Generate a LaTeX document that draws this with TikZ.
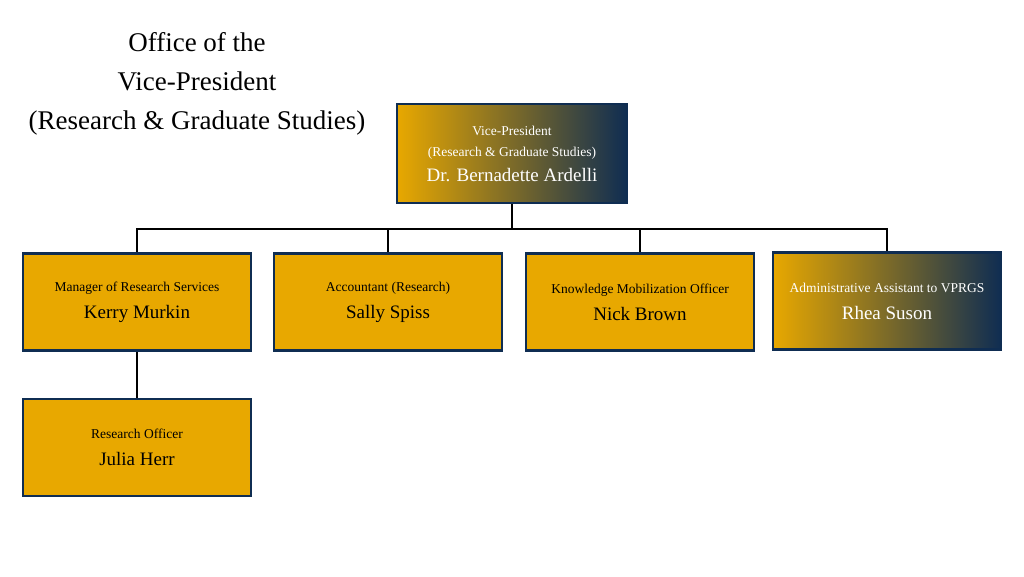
\documentclass[tikz,border=0pt]{standalone}
\usepackage{fontspec}
\setmainfont{Liberation Serif}
\definecolor{gold}{HTML}{E8A800}
\definecolor{navy}{HTML}{0F2D52}
\newcommand{\sm}{\fontsize{13.5}{17}\selectfont}
\newcommand{\nm}{\fontsize{19}{22}\selectfont}
\begin{document}
\begin{tikzpicture}[x=1pt,y=-1pt,
 box/.style={draw=navy,line width=2.5pt,fill=gold,minimum width=228pt,minimum height=97pt,align=center,inner sep=0pt,font=\fontsize{13.5}{17}\selectfont},
 gbox/.style={box,fill=none,left color=gold,right color=navy,text=white},
 ln/.style={line width=1.5pt,black}]
\useasboundingbox (0,0) rectangle (1024,576);
\node[font=\fontsize{27}{39}\selectfont,align=center] (title) at (197,84) {Office of the\\Vice-President\\(Research \& Graduate Studies)};
\node[gbox,minimum width=230pt,minimum height=99pt] (vp) at (512,153.5) {\sm Vice-President\\[4pt]\sm (Research \& Graduate Studies)\\[8pt]\nm Dr. Bernadette Ardelli};
\node[box] (m) at (137,302) {\sm Manager of Research Services\\[10pt]\nm Kerry Murkin};
\node[box] (a) at (388,302) {\sm Accountant (Research)\\[10pt]\nm Sally Spiss};
\node[box] (k) at (640,302) {\sm Knowledge Mobilization Officer\\[10pt]\nm Nick Brown};
\node[gbox] (aa) at (887,301) {\sm Administrative Assistant to VPRGS\\[10pt]\nm Rhea Suson};
\node[box] (r) at (137,447.5) {\sm Research Officer\\[10pt]\nm Julia Herr};
\coordinate (j) at (512,229);
\draw[ln] (vp.south) -- (j);
\draw[ln] (j) -| (m.north);
\draw[ln] (j) -| (a.north);
\draw[ln] (j) -| (k.north);
\draw[ln] (j) -| (aa.north);
\draw[ln] (m.south) -- (r.north);
\end{tikzpicture}
\end{document}
